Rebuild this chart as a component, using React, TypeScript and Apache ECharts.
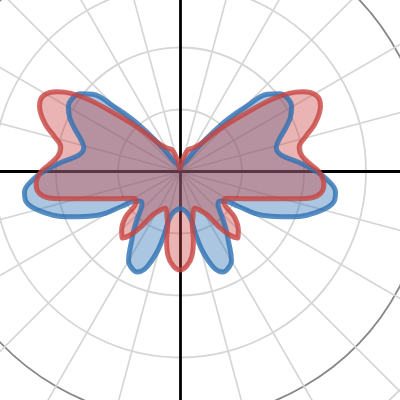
import React, { useEffect, useRef } from "react";
import * as echarts from "echarts";

// right half of each curve (angle in degrees, r in grid units);
// both curves are mirror images across the vertical axis
const blueAngles = [
    90, 75, 65, 58, 54, 50, 47.5, 44.5, 41.5, 38, 34, 30, 26, 22.5, 17.5, 14, 11, 8, 4.5, 0,
    -3, -7.5, -11, -16, -22, -28, -31, -33, -36, -40, -44, -47, -51, -55, -60, -64, -67, -70,
    -72.5, -74.5, -76, -77, -80, -85, -90,
];
const blueRadii = [
    0.03, 0.1, 0.15, 0.22, 0.45, 0.82, 1.15, 1.5, 1.88, 2.04, 2.1, 2.08, 1.98, 1.85, 1.67, 1.6,
    1.61, 1.7, 1.92, 2.2, 2.37, 2.53, 2.53, 2.33, 1.95, 1.5, 1.08, 0.88, 0.81, 0.8, 0.88, 0.99,
    1.17, 1.36, 1.66, 1.75, 1.76, 1.68, 1.5, 1.3, 1.05, 0.8, 0.68, 0.62, 0.6,
];

const redAngles = [
    90, 80, 75, 70, 64, 57, 52, 49, 45, 41.7, 37.6, 33, 29, 25, 19.5, 15.3, 11.4, 7.4, 2.6, -0.3,
    -5, -9, -12, -15.3, -22.3, -30, -34, -40, -45, -49, -52, -55, -58, -63, -68, -71, -74, -77,
    -79, -82, -86, -90,
];
const redRadii = [
    0.02, 0.15, 0.25, 0.37, 0.41, 0.48, 0.6, 0.77, 1.08, 1.4, 1.95, 2.36, 2.52, 2.5, 2.31, 2.09,
    1.96, 1.98, 2.13, 2.25, 2.33, 2.29, 2.09, 1.67, 1.16, 0.86, 0.85, 1.15, 1.33, 1.42, 1.3, 1.08,
    0.82, 0.7, 0.64, 0.67, 0.76, 0.88, 1.13, 1.38, 1.53, 1.59,
];

// grid circles: every unit, the 4th one darker
const ringColors = ["#d6d6d6", "#d6d6d6", "#d6d6d6", "#d6d6d6", "#888888", "#d6d6d6", "#d6d6d6"];

const UNIT = 62; // px per grid unit
const CX = 180;
const CY = 171.5;

function closedLoop(angles: number[], radii: number[]) {
    const right = angles.map((a, i) => [radii[i], a]);
    const left = right
        .slice(0, -1)
        .reverse()
        .map(([r, a]) => [r, 180 - a]);
    return [...right, ...left];
}

export default function App() {
    const chartRef = useRef<HTMLDivElement>(null);

    useEffect(() => {
        if (chartRef.current === null) return;
        const chart = echarts.init(chartRef.current, undefined, { renderer: "svg" });

        const option: echarts.EChartsOption = {
            animation: false,
            backgroundColor: "#fff",
            polar: {
                center: [CX, CY],
                radius: 6 * UNIT,
            },
            angleAxis: {
                type: "value",
                min: -90,
                max: 270,
                interval: 15,
                startAngle: -90,
                clockwise: false,
                axisLine: { show: false },
                axisTick: { show: false },
                axisLabel: { show: false },
                splitLine: { show: true, lineStyle: { color: "#d6d6d6", width: 1.7 } },
            },
            radiusAxis: {
                type: "value",
                min: 0,
                max: 6,
                interval: 1,
                axisLine: { show: false },
                axisTick: { show: false },
                axisLabel: { show: false },
                splitLine: { show: true, lineStyle: { color: ringColors, width: 1.8 } },
            },
            grid: { left: 0, right: 0, top: 0, bottom: 0 },
            xAxis: {
                type: "value",
                min: -CX / UNIT,
                max: (400 - CX) / UNIT,
                axisLine: { show: true, onZero: true, lineStyle: { color: "#000", width: 2.8 } },
                axisTick: { show: false },
                axisLabel: { show: false },
                splitLine: { show: false },
            },
            yAxis: {
                type: "value",
                min: -(400 - CY) / UNIT,
                max: CY / UNIT,
                axisLine: { show: true, onZero: true, lineStyle: { color: "#000", width: 2.8 } },
                axisTick: { show: false },
                axisLabel: { show: false },
                splitLine: { show: false },
            },
            series: [
                {
                    type: "line",
                    coordinateSystem: "polar",
                    data: closedLoop(blueAngles, blueRadii),
                    smooth: 0.4,
                    symbol: "none",
                    lineStyle: { color: "rgba(45,112,179,0.8)", width: 5, join: "round" },
                    areaStyle: { color: "rgba(45,112,179,0.4)", opacity: 1 },
                },
                {
                    type: "line",
                    coordinateSystem: "polar",
                    data: closedLoop(redAngles, redRadii),
                    smooth: 0.4,
                    symbol: "none",
                    lineStyle: { color: "rgba(199,68,64,0.8)", width: 5, join: "round" },
                    areaStyle: { color: "rgba(199,68,64,0.4)", opacity: 1 },
                },
            ],
        };

        chart.setOption(option);
        return () => {
            chart.dispose();
        };
    }, []);

    return (
        <div
            ref={chartRef}
            style={{ position: "fixed", left: 0, top: 0, width: 400, height: 400 }}
        />
    );
}
